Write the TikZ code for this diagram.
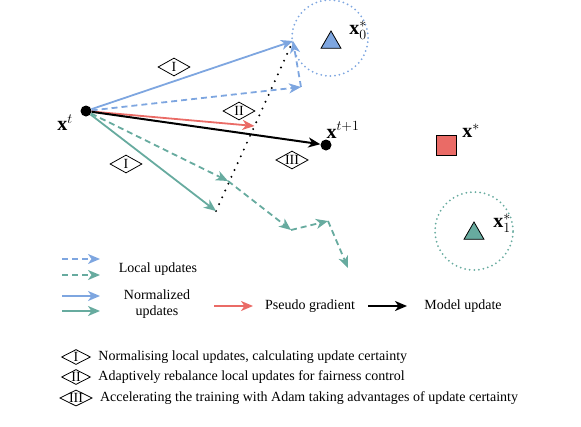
\RequirePackage{fix-cm}
\documentclass[tikz,border=0pt]{standalone}
\usepackage{fontspec}
\setmainfont{Liberation Serif}
\usepackage{amsmath}
\usetikzlibrary{arrows.meta,shapes.geometric,positioning,calc}

\definecolor{cblue}{HTML}{7EA6E0}
\definecolor{cgreen}{HTML}{67AB9F}
\definecolor{cred}{HTML}{EA6B66}

\tikzset{
  updtip/.style={-{Stealth[length=12pt,width=10pt,inset=3.5pt]}},
  normupd/.style={updtip,line width=1.8pt},
  localupd/.style={normupd,dash pattern=on 6pt off 4pt},
  stage/.style={diamond,draw,line width=0.8pt,aspect=2,inner sep=0pt,minimum width=32pt,minimum height=18pt,font=\fontsize{14}{14}\selectfont},
  optdot/.style={circle,fill=black,inner sep=0pt,minimum size=11pt},
  region/.style={circle,line width=2pt,line cap=round,dash pattern=on 0pt off 4.6pt,minimum size=#1},
  optim/.style={regular polygon,regular polygon sides=3,draw,line width=0.8pt,inner sep=0pt,minimum size=23pt},
  mathlbl/.style={font=\fontsize{20}{22}\selectfont,inner sep=0pt},
  lbl/.style={font=\fontsize{14}{16}\selectfont,align=center}
}

\begin{document}
\begin{tikzpicture}[x=1pt,y=-1pt]
\useasboundingbox (0,0) rectangle (581,426);

% optima
\node [region=76pt,draw=cblue] (r0) at (330,38) {};
\node [region=78pt,draw=cgreen] (r1) at (474,231) {};
\node [optim,fill=cblue] (o0) at (331,42.5) {};
\node [optim,fill=cgreen] (o1) at (474,233.5) {};
\node [draw,line width=0.8pt,fill=cred,minimum size=20pt,inner sep=0pt] (o) at (446,145) {};
\node [mathlbl] (lo0) at (358,30) {$\mathbf{x}_0^*$};
\node [mathlbl] (lo1) at (502,223) {$\mathbf{x}_1^*$};
\node [mathlbl] (lo) at (471,131) {$\mathbf{x}^*$};

% model points
\node [optdot] (xt) at (86,111) {};
\node [optdot] (xt1) at (326,145) {};
\node [mathlbl] (lxt) at (65,123) {$\mathbf{x}^t$};
\node [mathlbl] (lxt1) at (343,130) {$\mathbf{x}^{t+1}$};

% update end points
\coordinate (b1) at (293,41);
\coordinate (b2) at (301,87);
\coordinate (g1) at (216,211);
\coordinate (g2) at (228,181);
\coordinate (g3) at (291,230);
\coordinate (g4) at (328,221);
\coordinate (g5) at (348,268);
\coordinate (pg) at ($(g1)!0.5!(b1)$);

\draw [line width=2.2pt,line cap=round,dash pattern=on 0pt off 7.5pt] (g1) -- (b1);

\draw [localupd,draw=cblue] (xt) -- (b2);
\draw [localupd,draw=cblue] (b2) -- (b1);
\draw [localupd,draw=cgreen] (xt) -- (g2);
\draw [localupd,draw=cgreen] (g2) -- (g3);
\draw [localupd,draw=cgreen] (g3) -- (g4);
\draw [localupd,draw=cgreen] (g4) -- (g5);
\draw [normupd,draw=cblue] (xt) -- (b1);
\draw [normupd,draw=cgreen] (xt) -- (g1);
\draw [normupd,draw=cred] (xt) -- (pg);
\draw [normupd,line width=2pt] (xt) -- (xt1);

\node [stage] (s1a) at (174,67) {I};
\node [stage] (s1b) at (126,164) {I};
\node [stage] (s2) at (239,111) {II};
\node [stage] (s3) at (292,160) {III};

% legend
\coordinate (la1) at (62,259);  \coordinate (la2) at (100,259);
\coordinate (lb1) at (62,275);  \coordinate (lb2) at (100,275);
\coordinate (lc1) at (62,296);  \coordinate (lc2) at (100,296);
\coordinate (ld1) at (62,311);  \coordinate (ld2) at (100,311);
\coordinate (le1) at (214,306); \coordinate (le2) at (253,306);
\coordinate (lf1) at (368,306); \coordinate (lf2) at (407,306);
\draw [localupd,draw=cblue] (la1) -- (la2);
\draw [localupd,draw=cgreen] (lb1) -- (lb2);
\draw [normupd,draw=cblue] (lc1) -- (lc2);
\draw [normupd,draw=cgreen] (ld1) -- (ld2);
\draw [normupd,draw=cred] (le1) -- (le2);
\draw [normupd,line width=2pt] (lf1) -- (lf2);
\node [lbl] (tloc) at (158,269) {Local updates};
\node [lbl] (tnorm) at (157,304) {Normalized\\updates};
\node [lbl] (tpg) at (310,306) {Pseudo gradient};
\node [lbl] (tmu) at (463,306) {Model update};

\node [stage,minimum width=29pt,minimum height=15pt] (k1) at (76,357) {I};
\node [stage,minimum width=29pt,minimum height=15pt] (k2) at (76,377) {II};
\node [stage,minimum width=29pt,minimum height=15pt] (k3) at (76,398) {III};
\node [lbl,anchor=west,right=4pt of k1] (t1) {Normalising local updates, calculating update certainty};
\node [lbl,anchor=west,right=4pt of k2] (t2) {Adaptively rebalance local updates for fairness control};
\node [lbl,anchor=west,right=4pt of k3] (t3) {Accelerating the training with Adam taking advantages of update certainty};

\end{tikzpicture}
\end{document}
